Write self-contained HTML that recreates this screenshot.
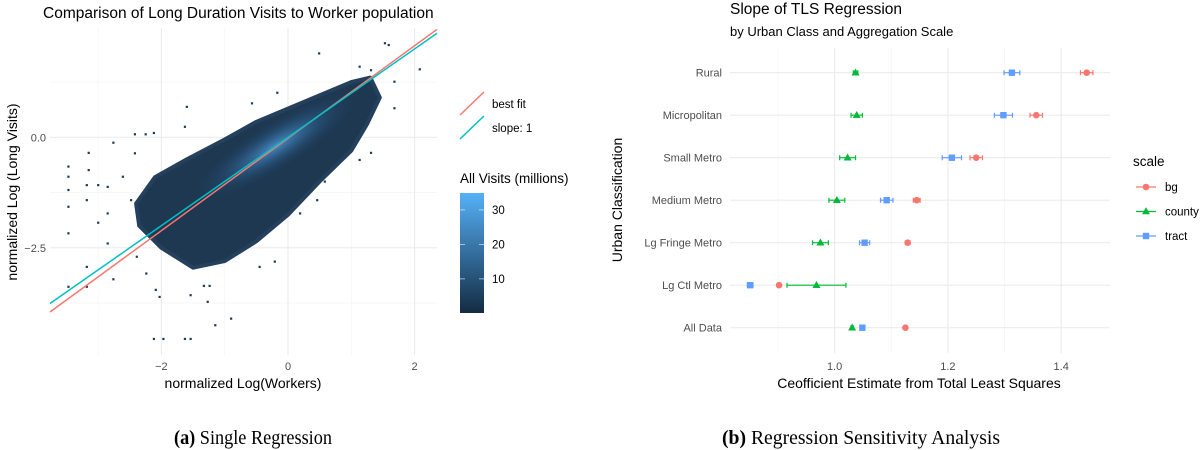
<!DOCTYPE html>
<html><head><meta charset="utf-8">
<style>
html,body{margin:0;padding:0;background:#fff;}
svg{display:block;font-family:"Liberation Sans",sans-serif;}
</style></head>
<body>
<svg id="fig" width="1200" height="450" viewBox="0 0 1200 450">
<defs>
<linearGradient id="cbar" x1="0" y1="1" x2="0" y2="0">
<stop offset="0" stop-color="#132B43"/><stop offset="1" stop-color="#56B1F7"/>
</linearGradient>
<radialGradient id="core">
<stop offset="0" stop-color="#4a90cc" stop-opacity="0.95"/>
<stop offset="0.5" stop-color="#2a5a85" stop-opacity="0.6"/>
<stop offset="1" stop-color="#1a3550" stop-opacity="0"/>
</radialGradient>
</defs>
<g id="left"></g>
<g id="right"></g>
<text x="253" y="444" text-anchor="middle" font-family="'Liberation Serif',serif" font-size="20" textLength="158" lengthAdjust="spacingAndGlyphs"><tspan font-weight="bold">(a)</tspan> Single Regression</text>
<text x="861" y="444" text-anchor="middle" font-family="'Liberation Serif',serif" font-size="20" textLength="278" lengthAdjust="spacingAndGlyphs"><tspan font-weight="bold">(b)</tspan> Regression Sensitivity Analysis</text>
</svg>
<script>
// ---------- Left panel data ----------
const xTicks = [-2, 0, 2];
const yTicks = [0.0, -2.5];
const xMinor = [-3, -1, 1];
const yMinor = [1.25, -1.25, -3.75];
const cloudX = [-2.4,-2.1,-1.6,-1.0,-0.5,0,0.5,1.0,1.3,1.45,1.25,1.0,0.5,0,-0.5,-1.0,-1.5,-2.0,-2.35];
const cloudY = [-1.5,-0.9,-0.5,-0.05,0.35,0.65,0.95,1.25,1.35,0.9,0.3,-0.3,-1.0,-1.75,-2.35,-2.8,-2.95,-2.5,-2.0];
const outX = [-3.47,-3.47,-3.47,-3.47,-3.47,-3.47,-3.15,-3.15,-3.18,-3.18,-3.18,-3.18,-2.76,-3.0,-3.0,-2.85,-2.85,-2.85,-2.76,-2.42,-2.25,-2.12,-2.42,-1.60,-1.63,-2.61,-2.48,-2.39,-2.24,-2.09,-2.03,-1.27,-1.15,-0.90,-2.12,-1.97,-1.63,-1.54,-0.21,-0.45,0.49,1.53,1.59,2.08,1.68,1.68,1.13,1.31,1.31,1.13,0.46,0.58,-0.17,-0.57,-1.33,-1.24,-1.54,-0.66,0.19];
const outY = [-0.66,-0.89,-1.19,-1.57,-2.17,-3.38,-0.35,-0.74,-1.08,-1.42,-3.38,-2.93,-0.12,-1.08,-1.93,-1.12,-1.72,-2.40,-3.21,0.07,0.07,0.10,-0.36,0.69,0.24,-0.89,-1.42,-2.70,-3.08,-3.45,-3.61,-3.72,-4.25,-4.10,-4.56,-4.56,-4.56,-4.56,-2.81,-2.93,1.90,2.13,2.09,1.54,0.66,1.26,1.60,1.52,-0.35,-0.51,-1.42,-1.00,1.01,0.77,-3.36,-3.36,-3.57,-2.32,-1.72];
const fitSlope = 1.046, fitIntercept = -0.02;
const refSlope = 1.0, refIntercept = 0.0;
const cbarTicks = [10, 20, 30];
const cbarMin = 0.1, cbarMax = 34.9;

// ---------- Right panel data ----------
const categories = ["Rural","Micropolitan","Small Metro","Medium Metro","Lg Fringe Metro","Lg Ctl Metro","All Data"];
const bgEst    = [1.445,1.356,1.250,1.145,1.129,0.902,1.125];
const bgErr    = [0.011,0.011,0.011,0.006,0.004,0.003,0.002];
const countyEst= [1.037,1.039,1.023,1.004,0.975,0.968,1.031];
const countyErr= [0.004,0.010,0.014,0.014,0.014,0.052,0.002];
const tractEst = [1.313,1.298,1.207,1.092,1.053,0.851,1.049];
const tractErr = [0.014,0.016,0.017,0.011,0.009,0.005,0.002];
const slopeTicks = [1.0, 1.2, 1.4];
const slopeMinor = [0.9, 1.1, 1.3];

const NS = "http://www.w3.org/2000/svg";
function mk(parent, tag, attrs, text){
  const e = document.createElementNS(NS, tag);
  for (const k in attrs) e.setAttribute(k, attrs[k]);
  if (text !== undefined) e.textContent = text;
  parent.appendChild(e);
  return e;
}

// ===== LEFT =====
const L = document.getElementById('left');
const lx = v => 288 + v*63.3;
const ly = v => 137.3 - v*44.2;
const LX0=50, LX1=437, LY0=28, LY1=355;
xMinor.forEach(v=>{const e=mk(L,'line',{x1:lx(v),x2:lx(v),y1:LY0,y2:LY1,stroke:'#f2f2f2','stroke-width':0.6});

});
yMinor.forEach(v=>{const e=mk(L,'line',{x1:LX0,x2:LX1,y1:ly(v),y2:ly(v),stroke:'#f2f2f2','stroke-width':0.6});

});
xTicks.forEach(v=>{const e=mk(L,'line',{x1:lx(v),x2:lx(v),y1:LY0,y2:LY1,stroke:'#ebebeb','stroke-width':1.1});


const t=mk(L,'text',{x:lx(v),y:370,'text-anchor':'middle','font-size':11,fill:'#4d4d4d'},v===0?'0':(v<0?'\u2212'+Math.abs(v):String(v)));

});
yTicks.forEach(v=>{const e=mk(L,'line',{x1:LX0,x2:LX1,y1:ly(v),y2:ly(v),stroke:'#ebebeb','stroke-width':1.1});


const t=mk(L,'text',{x:46,y:ly(v)+4,'text-anchor':'end','font-size':11,fill:'#4d4d4d'},(v<0?'\u2212':'')+Math.abs(v).toFixed(1));

});

// cloud
let d='';
cloudX.forEach((x,i)=>{d+=(i?'L':'M')+lx(x).toFixed(1)+','+ly(cloudY[i]).toFixed(1);});
const cloud=mk(L,'path',{d:d+'Z',fill:'#17324d',stroke:'#1d3a57','stroke-width':4,'stroke-linejoin':'round',opacity:0.97});


const core=mk(L,'ellipse',{cx:lx(-0.2),cy:ly(-0.2),rx:100,ry:25,fill:'url(#core)',transform:`rotate(-32 ${lx(-0.2)} ${ly(-0.2)})`});


outX.forEach((x,i)=>{const r=mk(L,'rect',{x:lx(x)-1,y:ly(outY[i])-1,width:2.2,height:2.2,fill:'#1d3a57'});

});

// lines
function regLine(s,b,col,name){
  const x0=(LX0-288)/63.3, x1=(LX1-288)/63.3;
  const e=mk(L,'line',{x1:lx(x0),y1:ly(s*x0+b),x2:lx(x1),y2:ly(s*x1+b),stroke:col,'stroke-width':1.5});
  
  
}
regLine(fitSlope,fitIntercept,'#F8766D','best-fit-line');
regLine(refSlope,refIntercept,'#00BFC4','slope-one-line');

// titles
let t=mk(L,'text',{x:43,y:18,'font-size':15.5,fill:'#000'},'Comparison of Long Duration Visits to Worker population');


t=mk(L,'text',{x:243,y:388,'text-anchor':'middle','font-size':14,fill:'#000'},'normalized Log(Workers)');


t=mk(L,'text',{x:0,y:0,'text-anchor':'middle','font-size':14,fill:'#000',transform:'translate(17,192) rotate(-90)'},'normalized Log (Long Visits)');



// legend
const lg=mk(L,'g',{});


let e=mk(lg,'line',{x1:460,y1:115,x2:484,y2:92,stroke:'#F8766D','stroke-width':1.5});


e=mk(lg,'text',{x:492,y:108,'font-size':11.5},'best fit');


e=mk(lg,'line',{x1:460,y1:139,x2:484,y2:116,stroke:'#00BFC4','stroke-width':1.5});


e=mk(lg,'text',{x:492,y:132,'font-size':11.5},'slope: 1');



// colorbar
const CB0=313, CB1=193;
const cb=v=> CB0 - (v-cbarMin)/(cbarMax-cbarMin)*(CB0-CB1);
e=mk(L,'text',{x:460,y:183,'font-size':13.5},'All Visits (millions)');


e=mk(L,'rect',{x:460,y:CB1,width:24,height:CB0-CB1,fill:'url(#cbar)'});


cbarTicks.forEach(v=>{
  let a=mk(L,'line',{x1:460,x2:465,y1:cb(v),y2:cb(v),stroke:'#fff','stroke-width':0.8,opacity:0.7});
  
  
  a=mk(L,'line',{x1:479,x2:484,y1:cb(v),y2:cb(v),stroke:'#fff','stroke-width':0.8,opacity:0.7});
  
  
  a=mk(L,'text',{x:492,y:cb(v)+4,'font-size':11.5},String(v));
  
  
});

// ===== RIGHT =====
const R=document.getElementById('right');
const rx=v=> 834.6 + (v-1.0)*566.5;
const ry=i=> 72.7 + i*42.5;
const RX0=730, RX1=1110, RY0=48, RY1=353;
slopeMinor.forEach(v=>{const a=mk(R,'line',{x1:rx(v),x2:rx(v),y1:RY0,y2:RY1,stroke:'#f2f2f2','stroke-width':0.6});

});
slopeTicks.forEach(v=>{const a=mk(R,'line',{x1:rx(v),x2:rx(v),y1:RY0,y2:RY1,stroke:'#ebebeb','stroke-width':1.1});


const b=mk(R,'text',{x:rx(v),y:370,'text-anchor':'middle','font-size':11,fill:'#4d4d4d'},v.toFixed(1));

});
categories.forEach((c,i)=>{const a=mk(R,'line',{x1:RX0,x2:RX1,y1:ry(i),y2:ry(i),stroke:'#ebebeb','stroke-width':1.1});


const b=mk(R,'text',{x:722,y:ry(i)+4,'text-anchor':'end','font-size':11,fill:'#4d4d4d'},c);

});

function marker(g,shape,x,y,col){
  let m;
  if(shape==='circle') m=mk(g,'circle',{cx:x,cy:y,r:3.3,fill:col});
  else if(shape==='square') m=mk(g,'rect',{x:x-3.2,y:y-3.2,width:6.4,height:6.4,fill:col});
  else m=mk(g,'polygon',{points:`${x},${y-4.2} ${x-4},${y+2.8} ${x+4},${y+2.8}`,fill:col});
  return m;
}
function series(est,err,col,shape,name){
  const g=mk(R,'g',{});
  
  
  est.forEach((v,i)=>{
    const y=ry(i), a=rx(v-err[i]), b=rx(v+err[i]);
    const eb=mk(g,'path',{d:`M${a},${y}H${b}M${a},${y-2.5}V${y+2.5}M${b},${y-2.5}V${y+2.5}`,stroke:col,'stroke-width':1.2,fill:'none'});
    
    
    const m=marker(g,shape,rx(v),y,col);
    
    
  });
}
series(bgEst,bgErr,'#F8766D','circle','bg');
series(countyEst,countyErr,'#00BA38','triangle','county');
series(tractEst,tractErr,'#619CFF','square','tract');

e=mk(R,'text',{x:730,y:14,'font-size':15.5},'Slope of TLS Regression');


e=mk(R,'text',{x:730,y:36,'font-size':13},'by Urban Class and Aggregation Scale');


e=mk(R,'text',{x:919,y:388,'text-anchor':'middle','font-size':14},'Ceofficient Estimate from Total Least Squares');


e=mk(R,'text',{x:0,y:0,'text-anchor':'middle','font-size':14,transform:'translate(622,200) rotate(-90)'},'Urban Classification');



const leg=mk(R,'g',{});


e=mk(leg,'text',{x:1133,y:166,'font-size':13.5},'scale');


const legNames=['bg','county','tract'], legCols=['#F8766D','#00BA38','#619CFF'], legShapes=['circle','triangle','square'];
legNames.forEach((n,i)=>{
  const y=187+i*24.5;
  let a=mk(leg,'line',{x1:1136,x2:1156,y1:y,y2:y,stroke:legCols[i],'stroke-width':1.2});
  
  
  a=marker(leg,legShapes[i],1146,y,legCols[i]);
  
  
  a=mk(leg,'text',{x:1165,y:y+4,'font-size':11.5},n);
  
  
});
</script>
</body></html>
